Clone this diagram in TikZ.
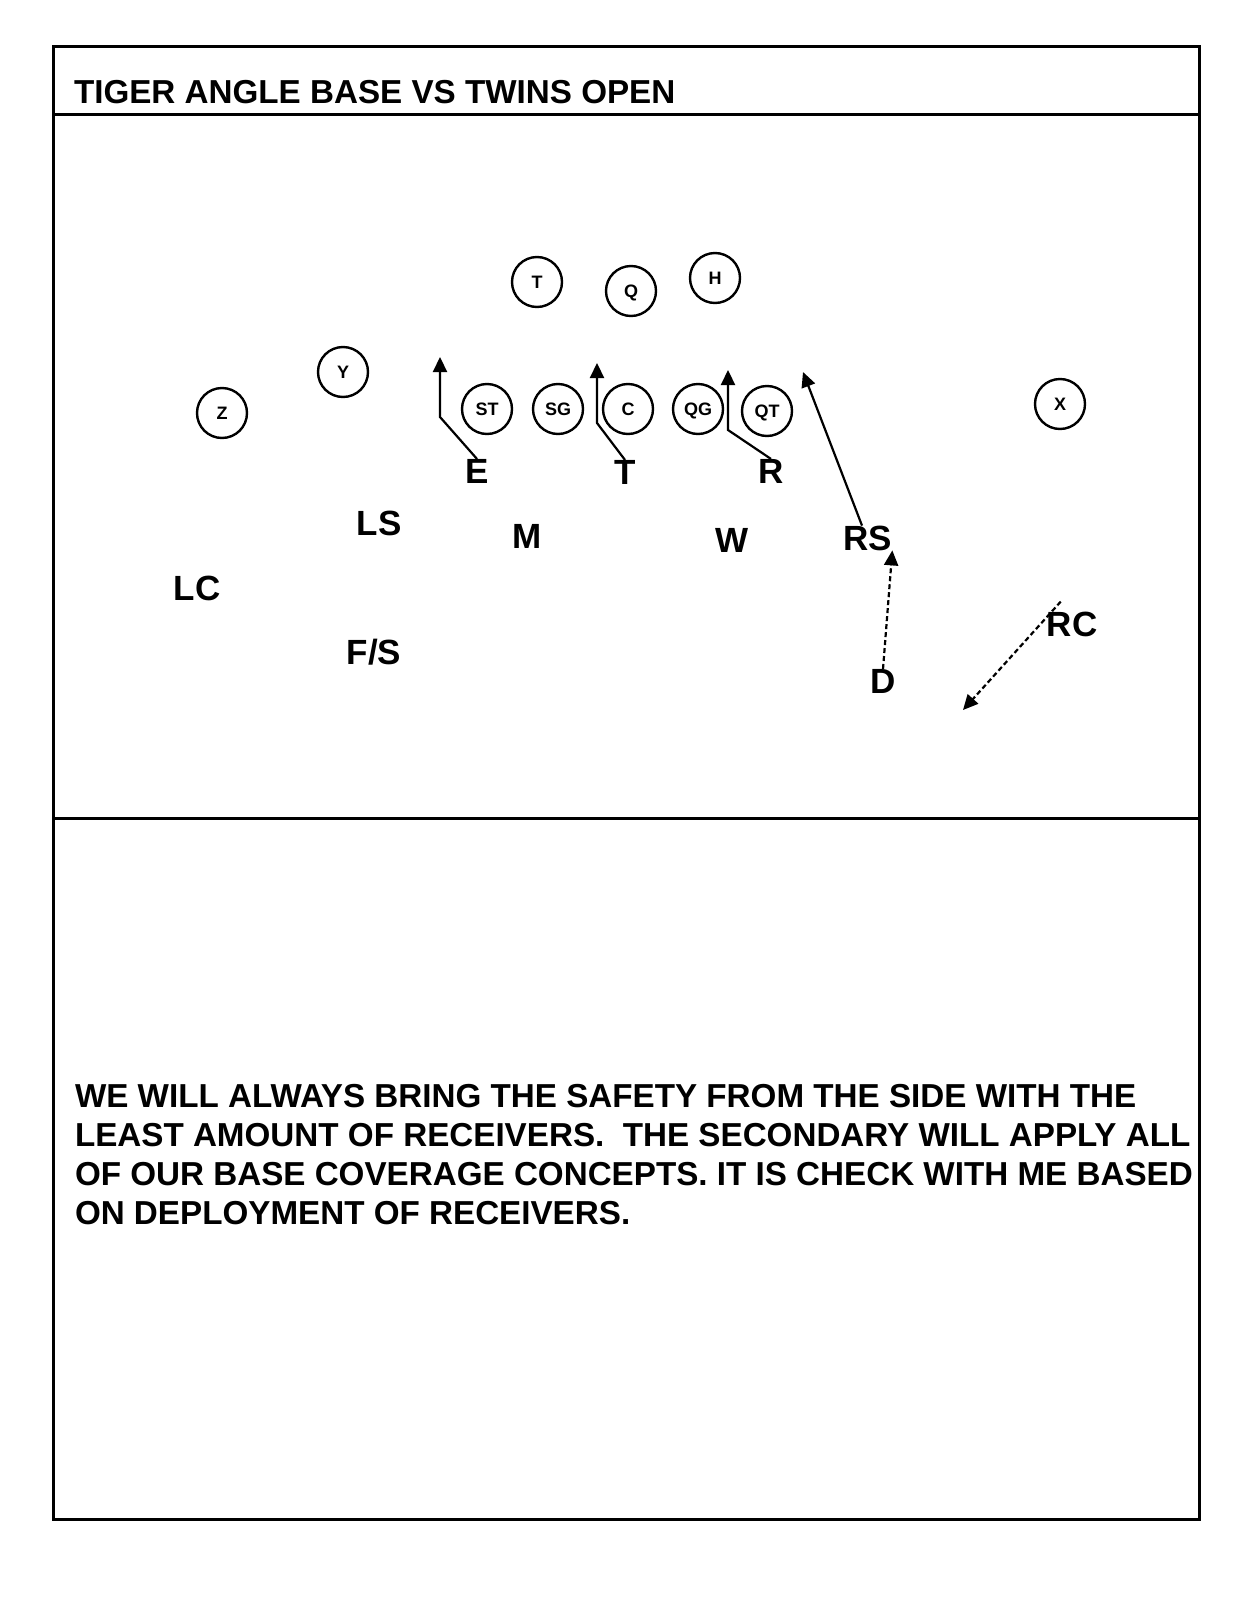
\documentclass[tikz,border=0pt]{standalone}
\usepackage{fontspec}
\setmainfont{Liberation Sans}
\usetikzlibrary{arrows.meta}

\begin{document}
\begin{tikzpicture}[x=0.5pt,y=-0.5pt,inner sep=0pt,outer sep=0pt,very thick,
>={Triangle[length=7.5pt,width=7pt]},
player/.style={draw,circle,minimum size=25pt,line width=1.2pt,text height=6.5pt,text depth=0pt,font=\fontsize{9}{10}\selectfont\bfseries},
defender/.style={font=\fontsize{17.5}{20}\selectfont\bfseries},
run/.style={->,line width=1.1pt},
drop/.style={->,line width=1.1pt,dash pattern=on 2.5pt off 1.5pt}]

\useasboundingbox (0,0) rectangle (1237,1600);

% frame
\draw[line width=1.5pt] (53,47) rectangle (1199,1519);
\draw[line width=1.5pt] (53,115) -- (1199,115);
\draw[line width=1.5pt] (53,818) -- (1199,818);
\draw (74,104) node[anchor=base west,font=\fontsize{16.6}{20}\selectfont\bfseries] (title) {TIGER ANGLE BASE VS TWINS OPEN};

% offense
\draw (222,413) node[player] (Z) {Z};
\draw (343,372) node[player] (Y) {Y};
\draw (537,282) node[player] (Tb) {T};
\draw (631,291) node[player] (Qb) {Q};
\draw (715,278) node[player] (Hb) {H};
\draw (487,409) node[player] (ST) {ST};
\draw (558,409) node[player] (SG) {SG};
\draw (628,409) node[player] (C) {C};
\draw (698,409) node[player] (QG) {QG};
\draw (767,411) node[player] (QT) {QT};
\draw (1060,404) node[player] (X) {X};

% defense
\draw (477,471) node[defender] (E) {E};
\draw (625,472) node[defender] (Tk) {T};
\draw (771,471) node[defender] (R) {R};
\draw (379,523) node[defender] (LS) {LS};
\draw (527,536) node[defender] (M) {M};
\draw (732,540) node[defender] (W) {W};
\draw (868,538) node[defender] (RS) {RS};
\draw (197,588) node[defender] (LC) {LC};
\draw (374,652) node[defender] (FS) {F/S};
\draw (1072,624) node[defender] (RC) {RC};
\draw (883,681) node[defender] (D) {D};

% stunts
\coordinate (Ebend) at (440,417);
\coordinate (Etip) at (440,357);
\coordinate (Tbend) at (597,423);
\coordinate (Ttip) at (597,363);
\coordinate (Rbend) at (728,430);
\coordinate (Rtip) at (728,370);
\coordinate (RSgap) at (803,372);
\coordinate (RCdeep) at (963,710);

\draw[run] (E.north) -- (Ebend) -- (Etip);
\draw[run] (Tk.north) -- (Tbend) -- (Ttip);
\draw[run] (R.north) -- (Rbend) -- (Rtip);
\draw[run] ([xshift=-3pt]RS.north) -- (RSgap);
\draw[drop] (D.north) -- (RS.south east);
\draw[drop] ([xshift=7pt,yshift=5pt]RC.north west) -- (RCdeep);

\draw (75,1084) node[anchor=north west,align=left,font=\fontsize{16.6}{19.5}\selectfont\bfseries] (note) {WE WILL ALWAYS BRING THE SAFETY FROM THE SIDE WITH THE\\
LEAST AMOUNT OF RECEIVERS.\ \ THE SECONDARY WILL APPLY ALL\\
OF OUR BASE COVERAGE CONCEPTS. IT IS CHECK WITH ME BASED\\
ON DEPLOYMENT OF RECEIVERS.};
\end{tikzpicture}
\end{document}
